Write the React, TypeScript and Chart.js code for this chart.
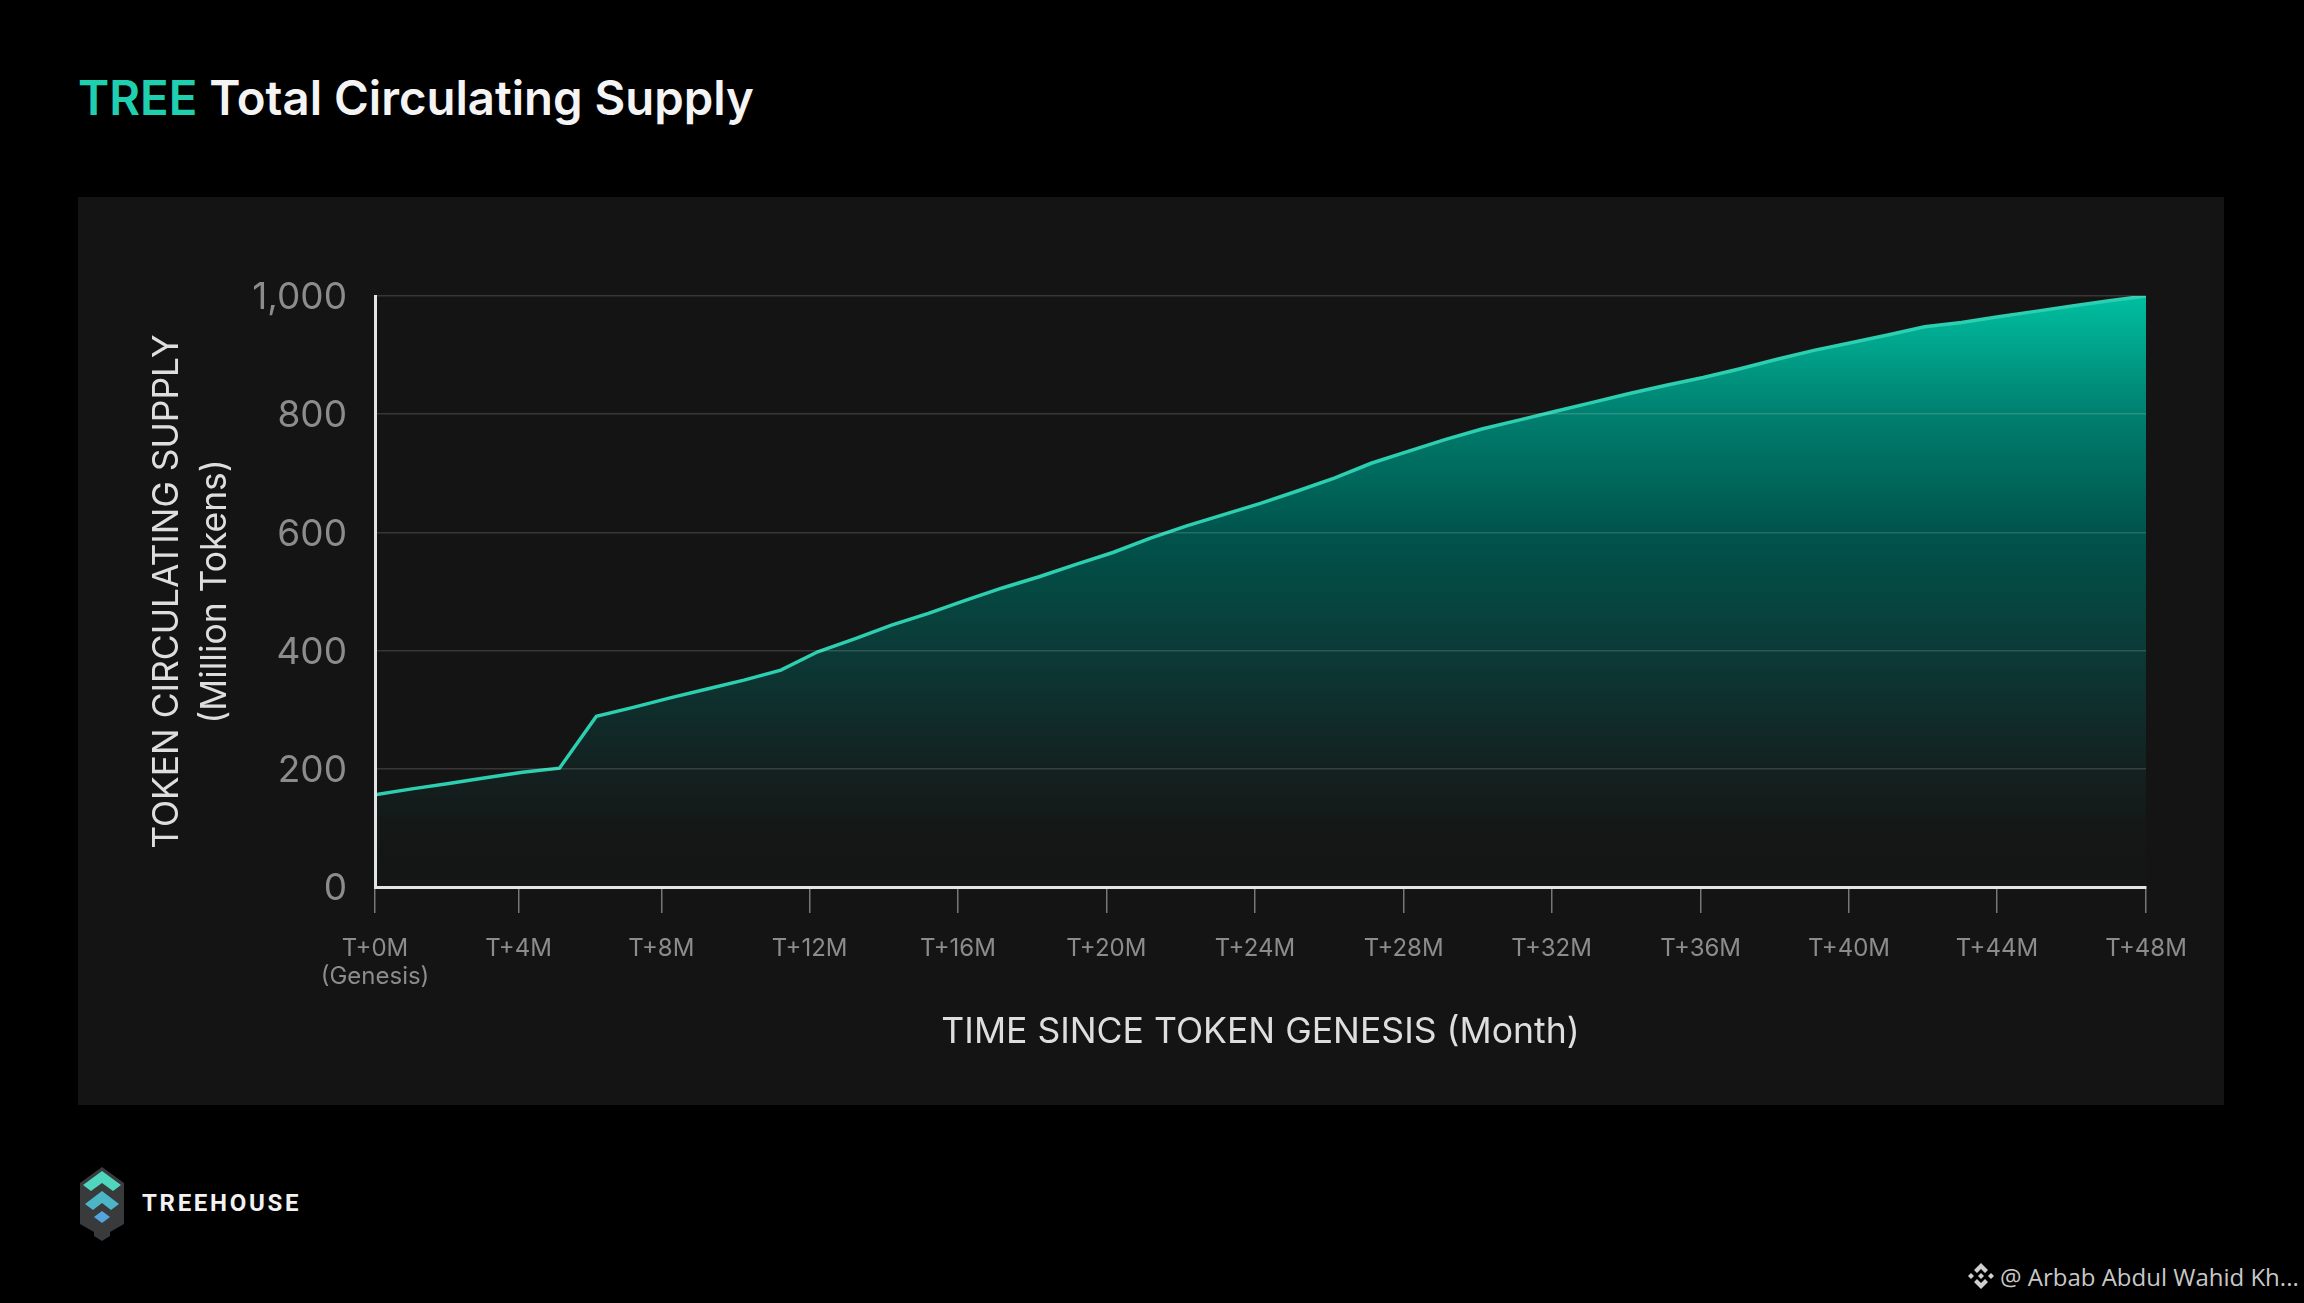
import React, { useEffect, useRef } from "react";
import { Chart, registerables } from "chart.js";

Chart.register(...registerables);

const MONTHS = Array.from({ length: 49 }, (_, i) => i);
const SUPPLY = [
  156, 166, 175, 185, 194, 201, 289, 304, 320, 335, 350, 367, 398, 420, 443, 463, 485,
  506, 525, 546, 566, 590, 611, 630, 649, 670, 692, 717, 737, 757, 775, 790, 805, 820,
  835, 849, 862, 877, 893, 908, 921, 934, 948, 955, 965, 974, 983, 992, 1000,
];
const TICK_MONTHS = [0, 3.89, 7.76, 11.78, 15.8, 19.82, 23.85, 27.88, 31.89, 35.93, 39.95, 43.96, 48];
const TICK_LABELS: (string | string[])[] = [
  ["T+0M", "(Genesis)"], "T+4M", "T+8M", "T+12M", "T+16M", "T+20M", "T+24M", "T+28M",
  "T+32M", "T+36M", "T+40M", "T+44M", "T+48M",
];
const FONT = "Inter, 'Noto Sans', sans-serif";

export default function App() {
  const ref = useRef<HTMLCanvasElement>(null);
  useEffect(() => {
    document.body.style.margin = "0";
    document.body.style.background = "#000";
    const chart = new Chart(ref.current!, {
      type: "line",
      data: {
        datasets: [
          {
            data: MONTHS.map((m, i) => ({ x: m, y: SUPPLY[i] })),
            borderColor: "#2CCFB0",
            borderWidth: 3.5,
            pointRadius: 0,
            tension: 0,
            fill: "origin",
            backgroundColor: (ctx: any) => {
              const a = ctx.chart.chartArea;
              if (!a) return "transparent";
              const g = ctx.chart.ctx.createLinearGradient(0, a.top, 0, a.bottom);
              g.addColorStop(0, "#00BFA0");
              g.addColorStop(0.2, "#007F6F");
              g.addColorStop(0.4, "#00544C");
              g.addColorStop(0.6, "#0B3A37");
              g.addColorStop(0.8, "#132120");
              g.addColorStop(0.9, "#141817");
              g.addColorStop(1, "#141414");
              return g;
            },
          },
        ],
      },
      options: {
        responsive: false,
        animation: false,
        devicePixelRatio: 1,
        layout: { padding: { left: 0, right: 78, top: 99, bottom: 0 } },
        plugins: { legend: { display: false }, tooltip: { enabled: false }, title: { display: false } },
        scales: {
          x: {
            type: "linear",
            min: 0,
            max: 48,
            afterBuildTicks: (axis: any) => {
              axis.ticks = TICK_MONTHS.map((v) => ({ value: v }));
            },
            afterFit: (axis: any) => {
              axis.height = 218;
            },
            ticks: {
              autoSkip: false,
              maxRotation: 0,
              color: "#8C8C8C",
              font: { family: FONT, size: 24 },
              padding: 21,
              callback: (_v: any, i: number) => TICK_LABELS[i],
            },
            grid: { drawOnChartArea: false, drawTicks: true, tickLength: 26, color: "#777777", lineWidth: 1.5 },
            border: { color: "#E4E4E4", width: 3, z: 2 },
            title: {
              display: true,
              text: "TIME SINCE TOKEN GENESIS (Month)",
              color: "#DEDEDE",
              font: { family: FONT, size: 35.6 },
              padding: { top: 24, bottom: 51 },
            },
          },
          y: {
            min: 0,
            max: 1000,
            afterFit: (axis: any) => {
              axis.width = 297;
            },
            ticks: {
              stepSize: 200,
              color: "#8C8C8C",
              font: { family: FONT, size: 37 },
              padding: 28,
              labelOffset: 2,
              callback: (v: any) => Number(v).toLocaleString("en-US"),
            },
            grid: { drawTicks: false, color: "rgba(255,255,255,0.15)", lineWidth: 1.5, z: 1 },
            border: { color: "#E4E4E4", width: 3, z: 2 },
            title: {
              display: true,
              text: ["TOKEN CIRCULATING SUPPLY", "(Million Tokens)"],
              color: "#DEDEDE",
              font: { family: FONT, size: 35.4, lineHeight: 1.34 },
              padding: { top: 66, bottom: 0 },
            },
          },
        },
      },
    } as any);
    return () => chart.destroy();
  }, []);

  return (
    <div style={{ position: "absolute", left: 0, top: 0, width: 2304, height: 1303, background: "#000", overflow: "hidden" }}>
      <div style={{ position: "absolute", left: 78, top: 71, fontFamily: FONT, fontSize: 47.3, fontWeight: 600, lineHeight: "54px", color: "#F4F4F4", whiteSpace: "nowrap" }}>
        <span style={{ color: "#1FCFB0" }}>TREE</span> Total Circulating Supply
      </div>
      <div style={{ position: "absolute", left: 78, top: 197, width: 2146, height: 908, background: "#141414" }}>
        <canvas ref={ref} width={2146} height={908} style={{ display: "block" }} />
      </div>
      <svg style={{ position: "absolute", left: 78, top: 1166 }} width={48} height={76} viewBox="0 0 48 76">
        <path d="M24 1 L46 17 V58 L32 66 V70 L24 75 L16 70 V66 L2 58 V17 Z" fill="#383A3C" />
        <path d="M24 5 L43 19 L35 25 L24 17 L13 25 L5 19 Z" fill="#4FD6BE" />
        <path d="M24 25 L41 38 L33 44 L24 37 L15 44 L7 38 Z" fill="#4CB5C6" />
        <path d="M24 45 L32 51 L24 57 L16 51 Z" fill="#55A5DC" />
      </svg>
      <div style={{ position: "absolute", left: 142, top: 1188, fontFamily: "Roboto, sans-serif", fontSize: 24, fontWeight: 700, letterSpacing: 2.7, lineHeight: "30px", color: "#F2F2F2" }}>
        TREEHOUSE
      </div>
      <svg style={{ position: "absolute", left: 1967, top: 1262 }} width={28} height={28} viewBox="0 0 28 28">
        <g fill="#D0D0D0">
          <path d="M14 1 L21 8 L18 11 L14 7 L10 11 L7 8 Z" />
          <path d="M14 27 L21 20 L18 17 L14 21 L10 17 L7 20 Z" />
          <path d="M14 11 L17 14 L14 17 L11 14 Z" />
          <path d="M4 11 L7 14 L4 17 L1 14 Z" />
          <path d="M24 11 L27 14 L24 17 L21 14 Z" />
        </g>
      </svg>
      <div style={{ position: "absolute", left: 2000, top: 1262, fontFamily: "'Open Sans', sans-serif", fontSize: 24, lineHeight: "30px", color: "#C8C8C8", whiteSpace: "nowrap" }}>
        @ Arbab Abdul Wahid Kh...
      </div>
    </div>
  );
}
